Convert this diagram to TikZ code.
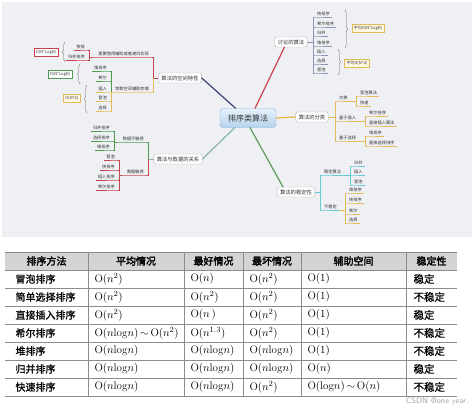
\documentclass[tikz,border=0pt]{standalone}
\usepackage{fontspec}
\newfontfamily\cjk{Noto Sans CJK SC}
\newfontfamily\cjkhead[FakeBold=2.5]{Noto Sans CJK SC}
\newfontfamily\cjkrow[FakeBold=1]{Noto Sans CJK SC}
\usetikzlibrary{positioning, calc, decorations.pathreplacing}
\definecolor{bgmap}{HTML}{EEF0F4}
\definecolor{txt}{HTML}{333333}
\definecolor{navyline}{HTML}{3E4275}
\definecolor{redline}{HTML}{C9434F}
\definecolor{orangeline}{HTML}{EBB545}
\definecolor{greenline}{HTML}{5E9E5A}
\definecolor{tealline}{HTML}{8DB3A8}
\definecolor{cyanline}{HTML}{63CAD6}
\definecolor{goldline}{HTML}{E2BC5A}
\definecolor{leafgreen}{HTML}{4E9A4E}
\definecolor{purpline}{HTML}{9394B4}
\definecolor{roottop}{HTML}{E6F1FB}
\definecolor{rootbot}{HTML}{B5D3EE}
\definecolor{rootedge}{HTML}{8DB0D3}
\definecolor{boxfill}{HTML}{FFF8E1}
\definecolor{headfill}{HTML}{D4D4D4}
\definecolor{ruleline}{HTML}{8C8C8C}
\newcommand{\Ord}[1]{\(\mathrm{O}(#1)\)}
\tikzset{
every node/.style = {text = txt},
root/.style = {rectangle, rounded corners = 3pt, draw = rootedge, thin,
   top color = roottop, bottom color = rootbot, minimum width = 56pt,
   minimum height = 19pt, font = \cjk\fontsize{8}{9}\selectfont},
topic/.style = {rectangle, rounded corners = 1.5pt, draw = black!30, thin, fill = white,
   inner xsep = 3pt, inner ysep = 0pt, minimum height = 10pt,
   font = \cjk\fontsize{5.3}{6}\selectfont},
leaf/.style = {inner xsep = 2pt, inner ysep = 1pt, font = \cjk\fontsize{4.2}{4.6}\selectfont},
cplx/.style = {rectangle, draw, line width = 0.7pt, fill = white, inner xsep = 2pt,
   inner ysep = 0pt, minimum height = 8pt, font = \cjk\fontsize{4}{4.5}\selectfont},
branch/.style = {line width = 1.2pt, line cap = round},
twig/.style = {line width = 0.6pt},
grp/.style = {decorate, decoration = {brace, amplitude = 2.5pt}, draw = black!60,
   line width = 0.4pt},
head/.style = {font = \cjkhead\fontsize{10}{11}\selectfont, text = black},
rowname/.style = {anchor = west, font = \cjkrow\fontsize{10}{11}\selectfont, text = black},
cell/.style = {anchor = west, font = \fontsize{11}{12}\selectfont, text = black},
stab/.style = {anchor = west, font = \cjkrow\fontsize{10.5}{11}\selectfont, text = black},
rule/.style = {draw = ruleline, line width = 0.7pt},
wmark/.style = {anchor = east, font = \sffamily\fontsize{8}{9}\selectfont, text = black!35}
}
\begin{document}
\begin{tikzpicture}[x = 1pt, y = -1pt]
\useasboundingbox (0,0) rectangle (474,408);

%% Mind map background
\fill [bgmap] (2,2) rectangle (472,237);

%% Root and main topics
\node [root] (root) at (248,118) {排序类算法};
\node [topic] (sp) at (180,78) {算法的空间特性};
\node [topic] (da) at (178,159) {算法与数据的关系};
\node [topic] (td) at (291,42) {讨论的算法};
\node [topic] (cl) at (312,117) {算法的分类};
\node [topic] (st) at (296,192) {算法的稳定性};

\draw [branch, navyline] (root.142) -- (sp.east);
\draw [branch, redline] (root.54) -- ($(td.south west)!0.3!(td.south east)$);
\draw [branch, orangeline] (root.east) -- (cl.west);
\draw [branch, greenline] (root.282) -- ($(st.north west)+(6,0)$);
\draw [branch, tealline] (root.216) -- (da.east);

%% Discussed algorithms
\coordinate (tdj) at (313,42);
\node [leaf, anchor = south west] (td1) at (315,17) {快排序};
\node [leaf, anchor = south west] (td2) at (315,27) {希尔排序};
\node [leaf, anchor = south west] (td3) at (315,36) {归并};
\node [leaf, anchor = south west] (td4) at (315,46) {堆排序};
\node [leaf, anchor = south west] (td5) at (315,55) {插入};
\node [leaf, anchor = south west] (td6) at (315,64) {选择};
\node [leaf, anchor = south west] (td7) at (315,73) {冒泡};
\draw [twig, purpline] (td.east) -- (tdj);
\draw [twig, purpline] (tdj) |- (td1.south west) -- (td1.south east);
\draw [twig, purpline] (tdj) |- (td2.south west) -- (td2.south east);
\draw [twig, purpline] (tdj) |- (td3.south west) -- (td3.south east);
\draw [twig, purpline] (tdj) |- (td4.south west) -- (td4.south east);
\draw [twig, purpline] (tdj) |- (td5.south west) -- (td5.south east);
\draw [twig, purpline] (tdj) |- (td6.south west) -- (td6.south east);
\draw [twig, purpline] (tdj) |- (td7.south west) -- (td7.south east);

\node [cplx, draw = goldline, fill = boxfill] (avg1) at (368,28) {平均O(N*LogN)};
\node [cplx, draw = goldline, fill = boxfill] (avg2) at (357,63) {平均O(N\textasciicircum 2)};
\draw [grp] (345,10) -- (345,48);
\draw [grp] (338,49) -- (338,75);

%% Classification
\coordinate (clj) at (335,117);
\node [leaf, anchor = south west] (cl1) at (337,101) {交换};
\node [leaf, anchor = south west] (cl2) at (337,121) {基于插入};
\node [leaf, anchor = south west] (cl3) at (337,141) {基于选择};
\draw [twig, goldline] (cl.east) -- (clj);
\draw [twig, goldline] (clj) |- (cl1.south west) -- (cl1.south east);
\draw [twig, goldline] (clj) |- (cl2.south west) -- (cl2.south east);
\draw [twig, goldline] (clj) |- (cl3.south west) -- (cl3.south east);

\coordinate (cl1j) at (356,101);
\coordinate (cl2j) at (365,121);
\coordinate (cl3j) at (365,141);
\node [leaf, anchor = south west] (cl11) at (358,96) {冒泡算法};
\node [leaf, anchor = south west] (cl12) at (358,106) {快速};
\node [leaf, anchor = south west] (cl21) at (367,116) {希尔排序};
\node [leaf, anchor = south west] (cl22) at (367,126) {直接插入算法};
\node [leaf, anchor = south west] (cl31) at (367,136) {堆排序};
\node [leaf, anchor = south west] (cl32) at (367,146) {直接选择排序};
\draw [twig, goldline] (cl1.south east) -- (cl1j);
\draw [twig, goldline] (cl2.south east) -- (cl2j);
\draw [twig, goldline] (cl3.south east) -- (cl3j);
\draw [twig, goldline] (cl1j) |- (cl11.south west) -- (cl11.south east);
\draw [twig, goldline] (cl1j) |- (cl12.south west) -- (cl12.south east);
\draw [twig, goldline] (cl2j) |- (cl21.south west) -- (cl21.south east);
\draw [twig, goldline] (cl2j) |- (cl22.south west) -- (cl22.south east);
\draw [twig, goldline] (cl3j) |- (cl31.south west) -- (cl31.south east);
\draw [twig, goldline] (cl3j) |- (cl32.south west) -- (cl32.south east);

%% Stability
\coordinate (stj) at (320,192);
\node [leaf, anchor = south west] (st1) at (322,175) {稳定算法};
\node [leaf, anchor = south west] (st2) at (322,210) {不稳定};
\draw [twig, cyanline] (st.east) -- (stj);
\draw [twig, cyanline] (stj) |- (st1.south west) -- (st1.south east);
\draw [twig, cyanline] (stj) |- (st2.south west) -- (st2.south east);

\coordinate (st1j) at (350,175);
\coordinate (st2j) at (345,210);
\node [leaf, anchor = south west] (st11) at (352,166) {归并};
\node [leaf, anchor = south west] (st12) at (352,175) {插入};
\node [leaf, anchor = south west] (st13) at (352,185) {冒泡};
\node [leaf, anchor = south west] (st21) at (347,193) {堆排序};
\node [leaf, anchor = south west] (st22) at (347,203) {快排序};
\node [leaf, anchor = south west] (st23) at (347,214) {希尔};
\node [leaf, anchor = south west] (st24) at (347,223) {选择};
\draw [twig, cyanline] (st1.south east) -- (st1j);
\draw [twig, goldline] (st2.south east) -- (st2j);
\draw [twig, cyanline] (st1j) |- (st11.south west) -- (st11.south east);
\draw [twig, cyanline] (st1j) |- (st12.south west) -- (st12.south east);
\draw [twig, cyanline] (st1j) |- (st13.south west) -- (st13.south east);
\draw [twig, goldline] (st2j) |- (st21.south west) -- (st21.south east);
\draw [twig, goldline] (st2j) |- (st22.south west) -- (st22.south east);
\draw [twig, goldline] (st2j) |- (st23.south west) -- (st23.south east);
\draw [twig, goldline] (st2j) |- (st24.south west) -- (st24.south east);

%% Space properties
\coordinate (spj) at (153,78);
\node [leaf, anchor = south east] (sp1) at (151,57) {需要借用辅助或者递归实现};
\node [leaf, anchor = south east] (sp2) at (151,92) {常数空间辅助存储};
\coordinate (sp1j) at (89,57);
\coordinate (sp2j) at (111,92);
\draw [twig, redline] (sp.west) -- (spj);
\draw [twig, redline] (spj) |- (sp1.south east) -- (sp1.south west) -- (sp1j);
\draw [twig, goldline] (spj) |- (sp2.south east) -- (sp2.south west) -- (sp2j);

\node [leaf, anchor = south east] (sp11) at (87,50) {快排};
\node [leaf, anchor = south east] (sp12) at (87,60) {归并排序};
\draw [twig, redline] (sp1j) |- (sp11.south east) -- (sp11.south west);
\draw [twig, redline] (sp1j) |- (sp12.south east) -- (sp12.south west);

\node [leaf, anchor = south east] (sp21) at (109,71) {堆排序};
\node [leaf, anchor = south east] (sp22) at (109,81) {希尔};
\node [leaf, anchor = south east] (sp23) at (109,92) {插入};
\node [leaf, anchor = south east] (sp24) at (109,101) {冒泡};
\node [leaf, anchor = south east] (sp25) at (109,111) {选择};
\draw [twig, leafgreen] (sp2j) |- (sp21.south east) -- (sp21.south west);
\draw [twig, leafgreen] (sp2j) |- (sp22.south east) -- (sp22.south west);
\draw [twig, goldline] (sp2j) -- (sp23.south east) -- (sp23.south west);
\draw [twig, goldline] (sp2j) |- (sp24.south east) -- (sp24.south west);
\draw [twig, goldline] (sp2j) |- (sp25.south east) -- (sp25.south west);

\node [cplx, draw = redline] (spo1) at (46,52) {O(N*LogN)};
\node [cplx, draw = leafgreen] (spo2) at (60,74) {O(N*LogN)};
\node [cplx, draw = goldline, fill = boxfill] (spo3) at (72,98) {O(N\textasciicircum 2)};
\draw [grp] (65,62) -- (65,42);
\draw [grp] (80,84) -- (80,64);
\draw [grp] (87,113) -- (87,85);

%% Data dependence
\coordinate (daj) at (148,159);
\node [leaf, anchor = south east] (da1) at (146,142) {数据不敏感};
\node [leaf, anchor = south east] (da2) at (146,175) {数据敏感};
\coordinate (da1j) at (114,142);
\coordinate (da2j) at (119,175);
\draw [twig, tealline] (da.west) -- (daj);
\draw [twig, leafgreen] (daj) |- (da1.south east) -- (da1.south west) -- (da1j);
\draw [twig, redline] (daj) |- (da2.south east) -- (da2.south west) -- (da2j);

\node [leaf, anchor = south east] (da11) at (112,131) {归并排序};
\node [leaf, anchor = south east] (da12) at (112,141) {选择排序};
\node [leaf, anchor = south east] (da13) at (112,150) {堆排序};
\draw [twig, leafgreen] (da1j) |- (da11.south east) -- (da11.south west);
\draw [twig, leafgreen] (da1j) |- (da12.south east) -- (da12.south west);
\draw [twig, leafgreen] (da1j) |- (da13.south east) -- (da13.south west);

\node [leaf, anchor = south east] (da21) at (117,160) {冒泡};
\node [leaf, anchor = south east] (da22) at (117,170) {快排序};
\node [leaf, anchor = south east] (da23) at (117,180) {插入排序};
\node [leaf, anchor = south east] (da24) at (117,190) {希尔排序};
\draw [twig, redline] (da2j) |- (da21.south east) -- (da21.south west);
\draw [twig, redline] (da2j) |- (da22.south east) -- (da22.south west);
\draw [twig, redline] (da2j) |- (da23.south east) -- (da23.south west);
\draw [twig, redline] (da2j) |- (da24.south east) -- (da24.south west);

%% Table: grid
\fill [headfill] (5,252) rectangle (457,270);
\draw [rule, line width = 1pt] (5,252) -- (457,252);
\draw [rule] (5,270) -- (457,270) (5,288) -- (457,288) (5,306) -- (457,306)
   (5,324) -- (457,324) (5,342) -- (457,342) (5,360) -- (457,360)
   (5,378) -- (457,378);
\draw [rule, line width = 1pt] (5,396) -- (457,396);
\draw [rule, line width = 0.6pt] (88,252) -- (88,396) (184,252) -- (184,396)
   (243,252) -- (243,396) (301,252) -- (301,396) (406,252) -- (406,396);

%% Table: header
\node [head] (h1) at (46.5,261) {排序方法};
\node [head] (h2) at (136,261) {平均情况};
\node [head] (h3) at (213.5,261) {最好情况};
\node [head] (h4) at (272,261) {最坏情况};
\node [head] (h5) at (353.5,261) {辅助空间};
\node [head] (h6) at (431.5,261) {稳定性};

%% Table: rows
\node [rowname] (r1) at (12,279) {冒泡排序};
\node [cell] (r1a) at (91,279) {\Ord{n^2}};
\node [cell] (r1b) at (187,279) {\Ord{n}};
\node [cell] (r1c) at (246,279) {\Ord{n^2}};
\node [cell] (r1d) at (304,279) {\Ord{1}};
\node [stab] (r1e) at (410,279) {稳定};

\node [rowname] (r2) at (12,297) {简单选择排序};
\node [cell] (r2a) at (91,297) {\Ord{n^2}};
\node [cell] (r2b) at (187,297) {\Ord{n^2}};
\node [cell] (r2c) at (246,297) {\Ord{n^2}};
\node [cell] (r2d) at (304,297) {\Ord{1}};
\node [stab] (r2e) at (410,297) {不稳定};

\node [rowname] (r3) at (12,315) {直接插入排序};
\node [cell] (r3a) at (91,315) {\Ord{n^2}};
\node [cell] (r3b) at (187,315) {\Ord{n\,}};
\node [cell] (r3c) at (246,315) {\Ord{n^2}};
\node [cell] (r3d) at (304,315) {\Ord{1}};
\node [stab] (r3e) at (410,315) {稳定};

\node [rowname] (r4) at (12,333) {希尔排序};
\node [cell] (r4a) at (91,333) {\Ord{n\mathrm{log}n}\,$\sim$\,\Ord{n^2}};
\node [cell] (r4b) at (187,333) {\Ord{n^{1.3}}};
\node [cell] (r4c) at (246,333) {\Ord{n^2}};
\node [cell] (r4d) at (304,333) {\Ord{1}};
\node [stab] (r4e) at (410,333) {不稳定};

\node [rowname] (r5) at (12,351) {堆排序};
\node [cell] (r5a) at (91,351) {\Ord{n\mathrm{log}n}};
\node [cell] (r5b) at (187,351) {\Ord{n\mathrm{log}n}};
\node [cell] (r5c) at (246,351) {\Ord{n\mathrm{log}n}};
\node [cell] (r5d) at (304,351) {\Ord{1}};
\node [stab] (r5e) at (410,351) {不稳定};

\node [rowname] (r6) at (12,369) {归并排序};
\node [cell] (r6a) at (91,369) {\Ord{n\mathrm{log}n}};
\node [cell] (r6b) at (187,369) {\Ord{n\mathrm{log}n}};
\node [cell] (r6c) at (246,369) {\Ord{n\mathrm{log}n}};
\node [cell] (r6d) at (304,369) {\Ord{n}};
\node [stab] (r6e) at (410,369) {稳定};

\node [rowname] (r7) at (12,387) {快速排序};
\node [cell] (r7a) at (91,387) {\Ord{n\mathrm{log}n}};
\node [cell] (r7b) at (187,387) {\Ord{n\mathrm{log}n}};
\node [cell] (r7c) at (246,387) {\Ord{n^2}};
\node [cell] (r7d) at (304,387) {\Ord{\mathrm{log}n}\,$\sim$\,\Ord{n}};
\node [stab] (r7e) at (410,387) {不稳定};

\node [wmark] (wm) at (472,401) {CSDN @one year.};

\end{tikzpicture}
\end{document}
